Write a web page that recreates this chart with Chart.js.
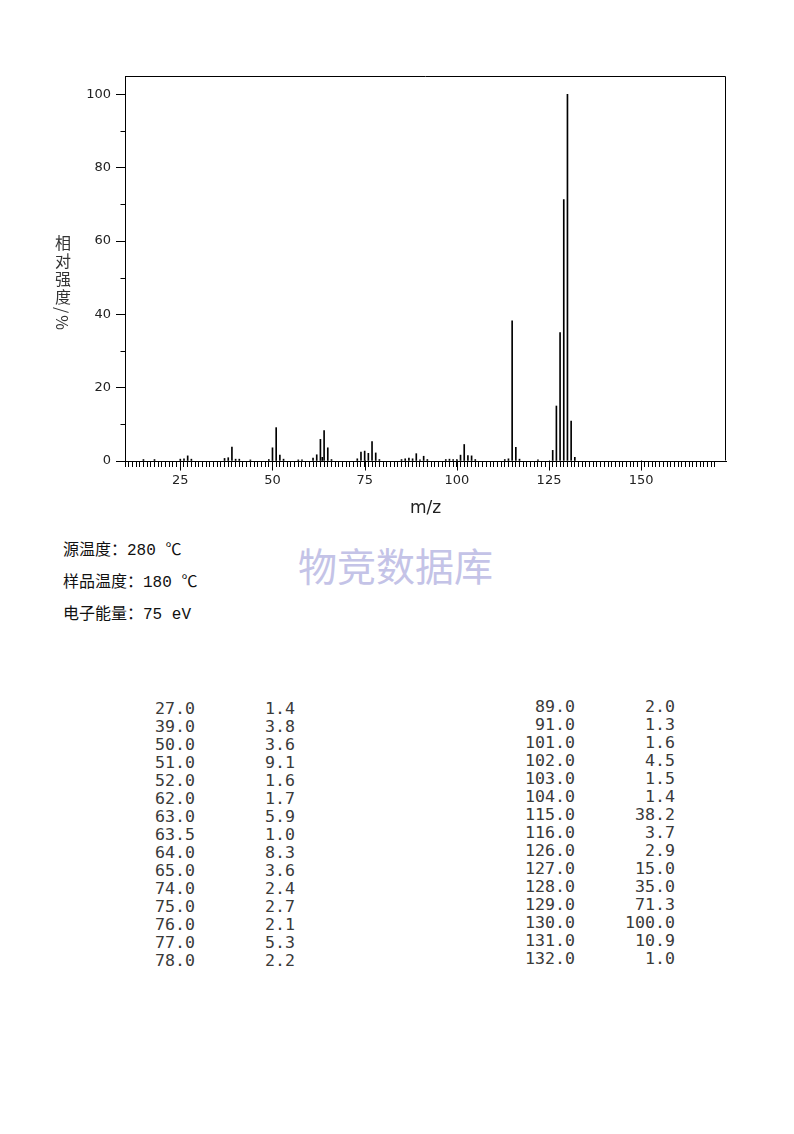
<!DOCTYPE html>
<html>
<head>
<meta charset="utf-8">
<script src="https://cdn.jsdelivr.net/npm/chart.js@4.4.1/dist/chart.umd.min.js"></script>
<style>
html,body{margin:0;padding:0;background:#fff;width:794px;height:1134px;overflow:hidden;position:relative}
#wrap{position:absolute;left:0;top:0;width:794px;height:530px}
.t{position:absolute;white-space:nowrap}
.info{left:63px;font-size:16px;font-family:"Liberation Mono","Noto Sans CJK SC",monospace;color:#111;line-height:22px;height:22px}
.ylab{position:absolute;left:54px;top:235px;writing-mode:vertical-rl;font-size:16px;font-family:"Noto Sans CJK SC",sans-serif;color:#333;line-height:18px;letter-spacing:2px}
.wm{left:298px;top:545px;font-size:39px;font-family:"Noto Sans CJK SC",sans-serif;color:#c4c3e7;line-height:39px}
.cell{position:absolute;text-align:right;font-size:16.6px;font-family:"DejaVu Sans Mono",monospace;color:#3a3a3a;line-height:18px;height:18px;white-space:nowrap}
</style>
</head>
<body>
<div id="wrap"><canvas id="c" width="794" height="530"></canvas></div>
<div class="ylab">相对强度/%</div>
<div class="t info" style="top:540px">源温度：280 ℃</div>
<div class="t info" style="top:572px">样品温度：180 ℃</div>
<div class="t info" style="top:604px">电子能量：75 eV</div>
<div class="t wm">物竞数据库</div>
<div id="table"></div>
<script>
// m/z values of the peaks
const mz = [15, 18, 25, 26, 27, 28, 37, 38, 39, 40, 41, 44, 49, 50, 51, 52, 53, 57, 58,
  61, 62, 63, 63.5, 64, 65, 66, 73, 74, 75, 76, 77, 78, 79, 85, 86, 87, 88, 89, 90, 91, 92,
  97, 98, 99, 100, 101, 102, 103, 104, 105, 113, 114, 115, 116, 117, 122,
  126, 127, 128, 129, 130, 131, 132];
// relative intensities (%)
const intensity = [0.4, 0.4, 0.5, 0.6, 1.4, 0.5, 0.7, 0.9, 3.8, 0.5, 0.5, 0.3, 0.4, 3.6, 9.1, 1.6, 0.5, 0.3, 0.3,
  0.8, 1.7, 5.9, 1.0, 8.3, 3.6, 0.4, 0.6, 2.4, 2.7, 2.1, 5.3, 2.2, 0.4, 0.4, 0.6, 0.8, 0.6, 2.0, 0.3, 1.3, 0.4,
  0.4, 0.5, 0.4, 0.4, 1.6, 4.5, 1.5, 1.4, 0.4, 0.4, 0.6, 38.2, 3.7, 0.5, 0.3,
  2.9, 15.0, 35.0, 71.3, 100.0, 10.9, 1.0];
const xLabelValues = [25, 50, 75, 100, 125, 150];
const yLabelValues = [0, 20, 40, 60, 80, 100];

const framePlugin = {
  id: 'frame',
  afterDraw(chart) {
    const {ctx, chartArea: a, scales: {x, y}} = chart;
    ctx.save();
    ctx.strokeStyle = '#000';
    ctx.lineWidth = 1;
    ctx.beginPath();
    const L = Math.round(a.left) + 0.5, R = Math.round(a.right) - 0.5;
    const T = Math.round(a.top) + 0.5, B = Math.round(a.bottom) - 0.5;
    ctx.moveTo(L, T); ctx.lineTo(R, T); ctx.lineTo(R, B);
    x.ticks.forEach(t => {
      if (xLabelValues.includes(t.value)) {
        const px = Math.round(x.getPixelForValue(t.value)) + 0.5;
        ctx.moveTo(px, B); ctx.lineTo(px, B + 10);
      }
    });
    y.ticks.forEach(t => {
      if (!yLabelValues.includes(t.value)) {
        const py = Math.round(y.getPixelForValue(t.value)) + 0.5;
        ctx.moveTo(L - 5, py); ctx.lineTo(L, py);
      }
    });
    ctx.stroke();
    ctx.restore();
  }
};

new Chart(document.getElementById('c'), {
  type: 'bar',
  data: {
    datasets: [{
      data: mz.map((m, i) => ({x: m, y: intensity[i]})),
      backgroundColor: '#000',
      borderWidth: 0,
      barThickness: 1
    }]
  },
  options: {
    responsive: false,
    animation: false,
    layout: {padding: {top: 76, right: 68, bottom: 9, left: 0}},
    plugins: {legend: {display: false}, tooltip: {enabled: false}},
    scales: {
      x: {
        type: 'linear', min: 10, max: 173, offset: false,
        afterBuildTicks(s) { s.ticks = s.ticks.filter(t => t.value >= 10 && t.value <= 170 && Number.isInteger(t.value)); },
        afterFit(s) { s.height = 60; },
        ticks: {
          stepSize: 1, autoSkip: false, maxRotation: 0, minRotation: 0, padding: 6,
          color: '#222', font: {family: 'DejaVu Sans', size: 13},
          callback: v => xLabelValues.includes(v) ? String(v) : ''
        },
        grid: {drawOnChartArea: false, tickLength: 6, tickColor: '#000', offset: false},
        border: {color: '#000', width: 1},
        title: {display: true, text: 'm/z', color: '#222', font: {family: 'DejaVu Sans', size: 17}, padding: {top: 0, bottom: 2}}
      },
      y: {
        min: 0, max: 105,
        afterBuildTicks(s) { s.ticks = s.ticks.filter(t => t.value <= 100); },
        afterFit(s) { s.width = 125; },
        ticks: {
          stepSize: 10, padding: 5, color: '#222', font: {family: 'DejaVu Sans', size: 13},
          callback: v => yLabelValues.includes(v) ? String(v) : ''
        },
        grid: {
          drawOnChartArea: false, tickLength: 9,
          tickColor: c => (c.tick && yLabelValues.includes(c.tick.value)) ? '#000' : 'rgba(0,0,0,0)'
        },
        border: {color: '#000', width: 1}
      }
    }
  },
  plugins: [framePlugin]
});

// peak table (intensity >= 1.0)
const rows = mz.map((m, i) => [m, intensity[i]]).filter(r => r[1] >= 1.0);
const tbl = document.getElementById('table');
function cell(text, right, top) {
  const d = document.createElement('div');
  d.className = 'cell';
  d.style.right = (794 - right) + 'px';
  d.style.top = top + 'px';
  d.textContent = text;
  tbl.appendChild(d);
}
rows.forEach((r, i) => {
  if (i < 15) {
    const top = 709 + 18 * i - 9;
    cell(r[0].toFixed(1), 195, top);
    cell(r[1].toFixed(1), 295, top);
  } else {
    const top = 707 + 18 * (i - 15) - 9;
    cell(r[0].toFixed(1), 575, top);
    cell(r[1].toFixed(1), 675, top);
  }
});
</script>
</body>
</html>
